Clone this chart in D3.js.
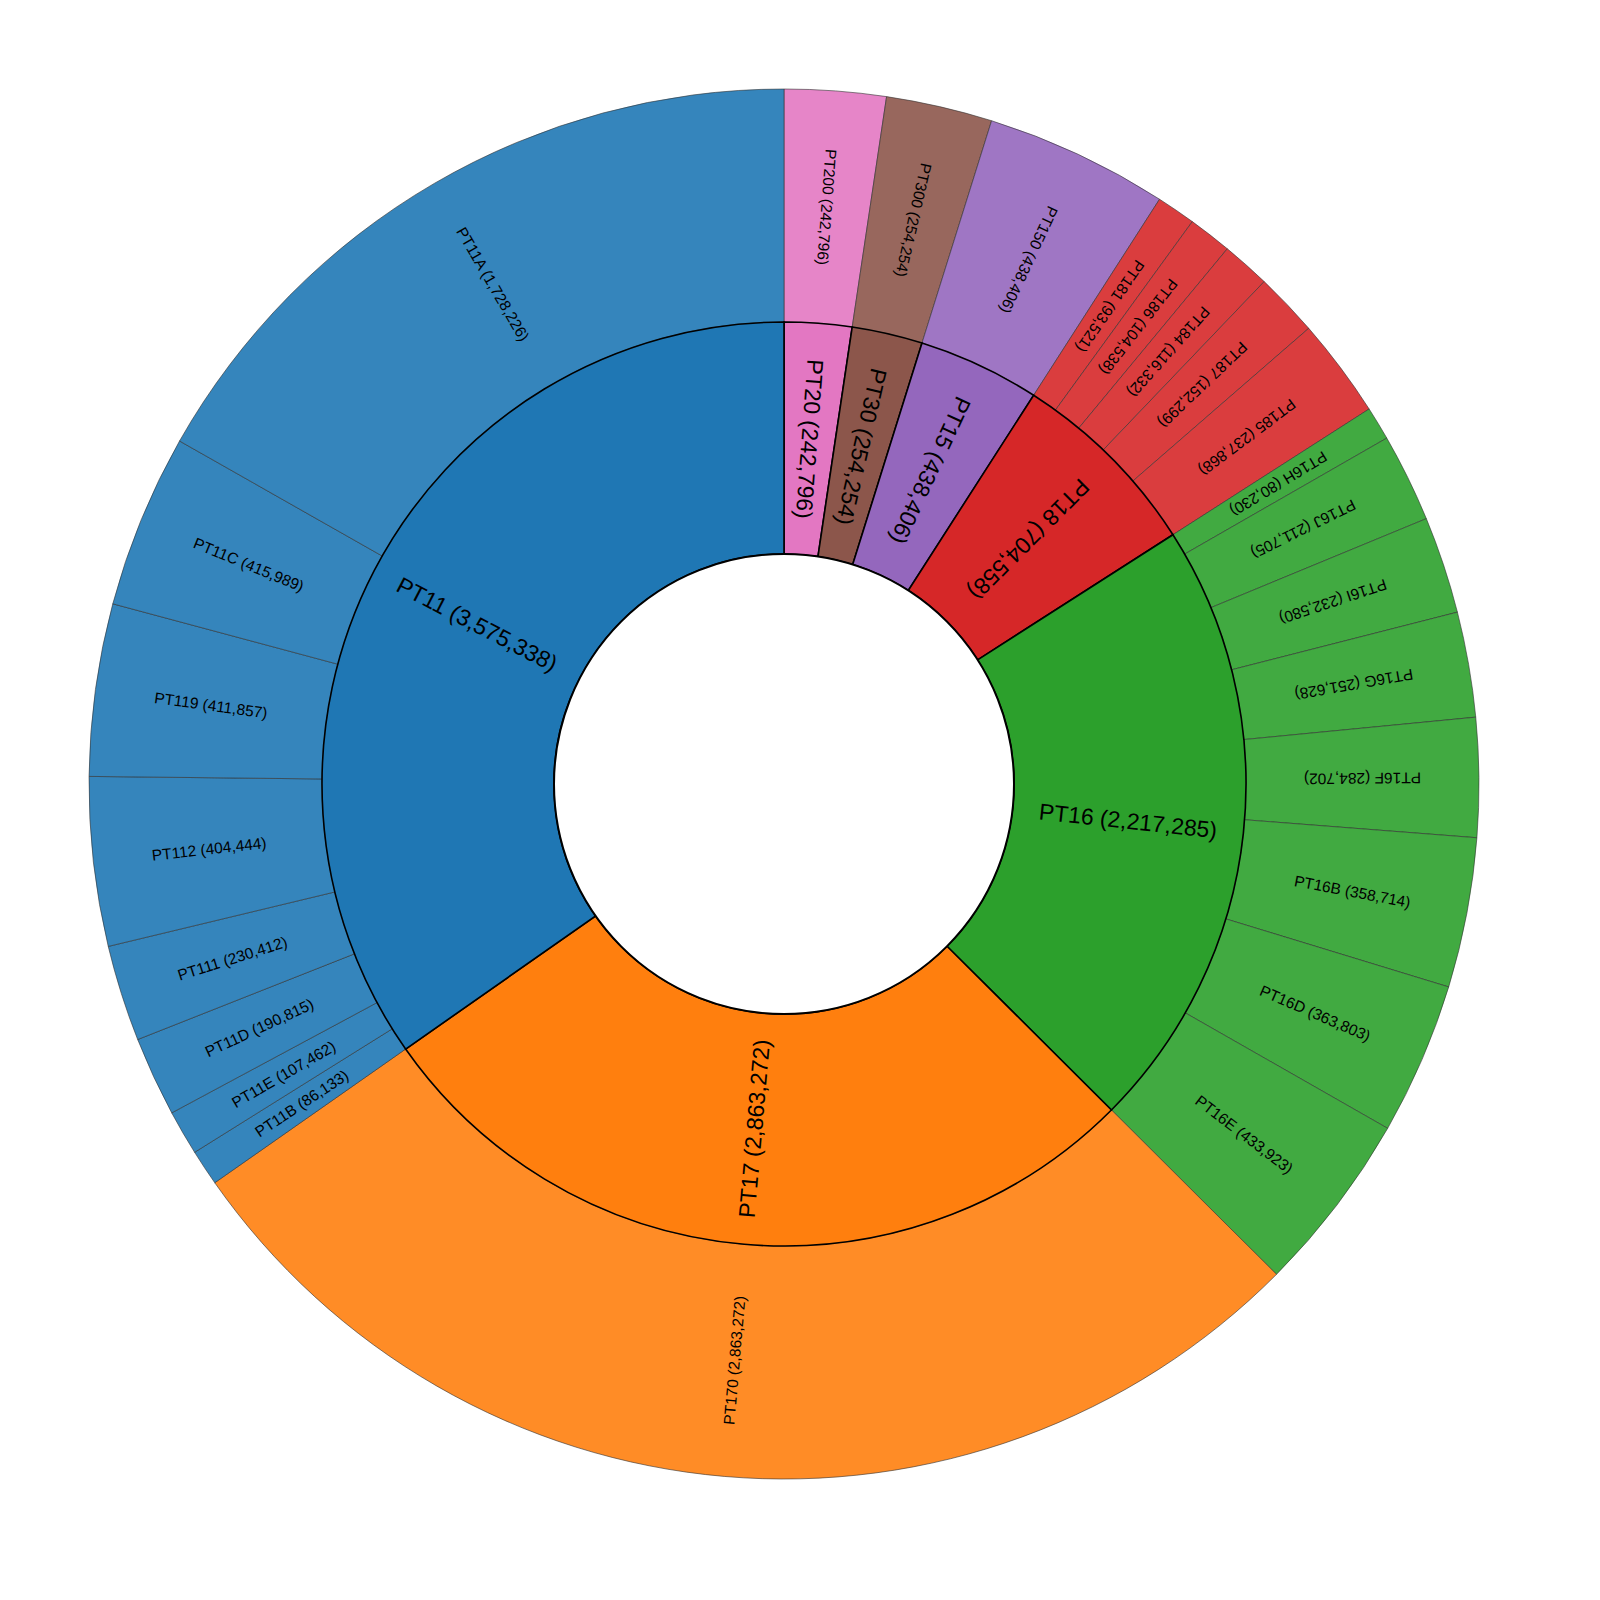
<!DOCTYPE html>
<html><head><meta charset="utf-8">
<script src="https://cdn.jsdelivr.net/npm/d3@7"></script>
<style>body{margin:0;background:#fff}</style>
</head><body><svg id="chart"></svg>
<script>
// parent groups and their colours
const parents = ['PT11', 'PT17', 'PT16', 'PT18', 'PT15', 'PT30', 'PT20']
const parentColors = ['#1f77b4', '#ff7f0e', '#2ca02c', '#d62728', '#9467bd', '#8c564b', '#e377c2']
// children per parent
const childNames = {
  PT11: ['PT11A', 'PT11C', 'PT119', 'PT112', 'PT111', 'PT11D', 'PT11E', 'PT11B'],
  PT17: ['PT170'],
  PT16: ['PT16E', 'PT16D', 'PT16B', 'PT16F', 'PT16G', 'PT16I', 'PT16J', 'PT16H'],
  PT18: ['PT185', 'PT187', 'PT184', 'PT186', 'PT181'],
  PT15: ['PT150'],
  PT30: ['PT300'],
  PT20: ['PT200']
}
const childValues = {
  PT11: [1728226, 415989, 411857, 404444, 230412, 190815, 107462, 86133],
  PT17: [2863272],
  PT16: [433923, 363803, 358714, 284702, 251628, 232580, 211705, 80230],
  PT18: [237868, 152299, 116332, 104538, 93521],
  PT15: [438406],
  PT30: [254254],
  PT20: [242796]
}

const width = 1600, height = 1600
const cx = 784, cy = 784
const radii = [230, 462, 695]
const fmt = d3.format(',')

const treeData = {
  name: 'root',
  children: parents.map(p => ({
    name: p,
    children: childNames[p].map((c, i) => ({ name: c, value: childValues[p][i] }))
  }))
}

const root = d3.hierarchy(treeData).sum(d => d.value || 0).sort((a, b) => a.value - b.value)
d3.partition().size([2 * Math.PI, 3])(root)

const colorOf = d => {
  const top = d.depth === 1 ? d : d.parent
  const c = parentColors[parents.indexOf(top.data.name)]
  return d.depth === 1 ? c : d3.interpolateRgb(c, '#fff')(0.1)
}

const arc = d3.arc()
  .startAngle(d => d.x0)
  .endAngle(d => d.x1)
  .innerRadius(d => radii[d.depth - 1])
  .outerRadius(d => radii[d.depth])

const svg = d3.select('#chart').attr('width', width).attr('height', height)
const g = svg.append('g').attr('transform', `translate(${cx},${cy})`)

const outer = root.descendants().filter(d => d.depth === 2)
const inner = root.descendants().filter(d => d.depth === 1)

g.selectAll('path.outer').data(outer).join('path')
  .attr('d', arc).attr('fill', colorOf)
  .attr('stroke', '#333').attr('stroke-width', 0.6)
g.selectAll('path.inner').data(inner).join('path')
  .attr('d', arc).attr('fill', colorOf)
  .attr('stroke', '#000').attr('stroke-width', 1.6)
g.append('circle').attr('r', radii[0]).attr('fill', '#fff')
  .attr('stroke', '#000').attr('stroke-width', 2)

function labelTransform(d) {
  const a = (d.x0 + d.x1) / 2 * 180 / Math.PI
  const r = (radii[d.depth - 1] + radii[d.depth]) / 2
  const rot = (a > 90 && a < 180) ? a - 90 : a + 90
  const rad = (a - 90) * Math.PI / 180
  return `translate(${r * Math.cos(rad)},${r * Math.sin(rad)}) rotate(${rot})`
}

g.selectAll('text.lbl').data(outer.concat(inner)).join('text')
  .attr('transform', labelTransform)
  .attr('text-anchor', 'middle')
  .attr('dominant-baseline', 'central')
  .attr('font-family', 'Liberation Sans, Arial, sans-serif')
  .attr('font-size', d => d.depth === 1 ? 23 : 15.5)
  .attr('fill', '#000')
  .text(d => `${d.data.name} (${fmt(d.value)})`)
</script>
</body></html>
